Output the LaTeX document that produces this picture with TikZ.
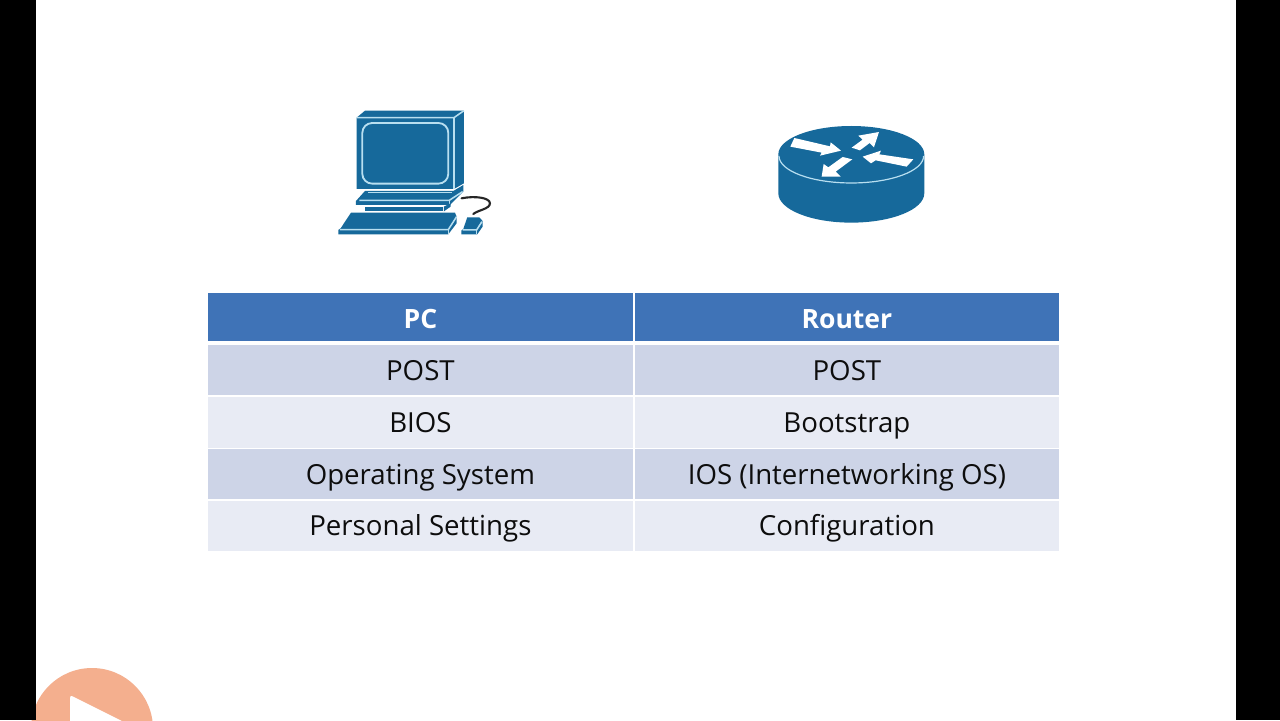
\documentclass[tikz,border=0pt]{standalone}
\usepackage{fontspec}
\setmainfont[Ligatures=NoCommon]{Open Sans}
\definecolor{hdr}{HTML}{3F73B7}
\definecolor{rowa}{HTML}{CDD4E7}
\definecolor{rowb}{HTML}{E8EBF4}
\definecolor{icon}{HTML}{16699B}
\definecolor{iconl}{HTML}{B8DFF0}
\definecolor{peach}{HTML}{F4AF8E}
\newlength{\pxu}\setlength{\pxu}{0.05cm}
\tikzset{
  cell/.style={inner sep=0pt,minimum width=424.5\pxu,font=\fontsize{39.3pt}{42pt}\selectfont,text=black!95,text height=30.4pt,text depth=1.6pt},
  hcell/.style={cell,fill=hdr,text=white,minimum height=48\pxu,font=\fontsize{37.8pt}{42pt}\selectfont\bfseries,text height=31.8pt,text depth=0pt},
  acell/.style={cell,fill=rowa,minimum height=50\pxu},
  bcell/.style={cell,fill=rowb,minimum height=50\pxu},
  solidicon/.style={fill=icon,draw=none},
  lightline/.style={draw=iconl,line width=2.2pt},
  whitearrow/.style={fill=white,draw=none},
  zoomA/.style={shift={(320,95)},x=0.016667cm,y=-0.016667cm},
  zoomB/.style={shift={(765,110)},x=0.016667cm,y=-0.016667cm}
}
\begin{document}
\begin{tikzpicture}[x=0.05cm,y=-0.05cm]
\useasboundingbox (0,0) rectangle (1280,720);
\fill[white] (0,0) rectangle (1280,720);
% play button
\begin{scope}
\clip (0,0) rectangle (1280,720);
\fill[peach] (92,729) circle[radius=61*0.05cm];
\fill[white,rounded corners=4pt] (70,695) -- (124,722) -- (70,745) -- cycle;
\end{scope}
\fill[black] (0,0) rectangle (36,720);
\fill[black] (1236,0) rectangle (1280,720);
% table
\node[hcell,anchor=north west] (h1) at (208,293) {PC};
\node[hcell,anchor=north west] (h2) at (634.5,293) {Router};
\node[acell,anchor=north west] (a1) at (208,345) {POST};
\node[acell,anchor=north west] (a2) at (634.5,345) {POST};
\node[bcell,anchor=north west,minimum height=50.5\pxu] (b1) at (208,397) {BIOS};
\node[bcell,anchor=north west,minimum height=50.5\pxu] (b2) at (634.5,397) {Bootstrap};
\node[acell,anchor=north west,minimum height=49.5\pxu] (c1) at (208,449) {Operating System};
\node[acell,anchor=north west,minimum height=49.5\pxu] (c2) at (634.5,449) {IOS (Internetworking OS)};
\node[bcell,anchor=north west] (d1) at (208,500.5) {Personal Settings};
\node[bcell,anchor=north west] (d2) at (634.5,500.5) {Configuration};
% computer
\begin{scope}[zoomA]
\fill[solidicon] (135,47) -- (432,47) -- (432,265) -- (402,282) -- (110,282) -- (110,68) -- cycle;
\draw[lightline] (110,68) -- (402,68) -- (432,47);
\draw[lightline] (402,68) -- (402,282);
\draw[lightline,rounded corners=14pt,line width=2.6pt] (127,84) rectangle (385,266);
\fill[solidicon] (135,288) -- (400,288) -- (430,270) -- (430,290) -- (390,330) -- (108,330) -- (108,318) -- cycle;
\draw[lightline] (118,316) -- (388,316) -- (428,290);
\draw[lightline] (145,292) -- (395,292);
\draw[lightline] (388,316) -- (388,330);
\fill[solidicon] (135,335) -- (368,335) -- (368,349) -- (135,349) -- cycle;
\fill[solidicon] (372,335) -- (392,325) -- (392,335) -- (372,349) -- cycle;
\fill[solidicon] (93,353) -- (405,353) -- (410,365) -- (410,385) -- (385,418) -- (55,418) -- (55,405) -- (62,400) -- cycle;
\draw[lightline] (60,404) -- (385,404) -- (410,365);
\draw[lightline] (385,404) -- (385,418);
\fill[solidicon] (442,367) -- (478,367) -- (488,378) -- (488,395) -- (472,418) -- (424,418) -- (424,407) -- (430,402) -- cycle;
\draw[lightline] (428,405) -- (470,405) -- (486,380);
\draw[lightline] (470,405) -- (470,418);
\draw[black!85,line width=3pt,line cap=round] (425,310) .. controls (465,302) and (510,308) .. (510,325) .. controls (510,342) and (475,345) .. (460,357);
\end{scope}
% router
\begin{scope}[zoomB]
\fill[solidicon] (40,133) -- (40,250) arc[start angle=180,end angle=0,x radius=219,y radius=88] -- (478,133) arc[start angle=0,end angle=-180,x radius=219,y radius=85] -- cycle;
\draw[lightline,line width=1.7pt] (42,138) arc[start angle=180,end angle=0,x radius=217,y radius=81];
\fill[whitearrow] (88,84) -- (195,109) -- (197,97) -- (228,122) -- (165,137) -- (170,128) -- (76,110) -- cycle;
\fill[whitearrow] (342,66) -- (327,112) -- (314,99) -- (285,121) -- (260,113) -- (293,89) -- (280,77) -- cycle;
\fill[whitearrow] (293,140) -- (348,122) -- (343,133) -- (445,148) -- (425,170) -- (332,151) -- (318,160) -- cycle;
\fill[whitearrow] (170,200) -- (176,162) -- (190,172) -- (233,141) -- (262,148) -- (212,185) -- (227,200) -- cycle;
\end{scope}
\end{tikzpicture}
\end{document}
